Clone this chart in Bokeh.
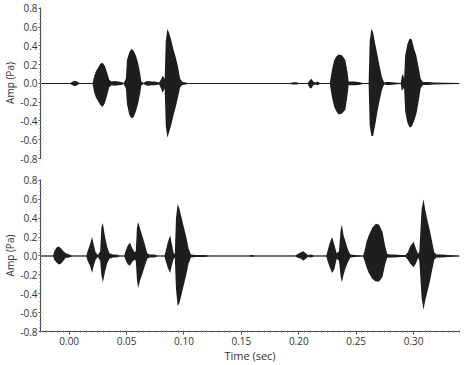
from bokeh.plotting import figure
from bokeh.layouts import column
from bokeh.models import FixedTicker, Range1d, PrintfTickFormatter
from bokeh.embed import file_html
from bokeh.resources import INLINE

# ---- Data: amplitude envelopes (time in s, amp in Pa) ----
top_t = [-0.025, 0.002, 0.004, 0.006, 0.008, 0.010, 0.022, 0.0235, 0.025, 0.027, 0.029, 0.031,
         0.033, 0.035, 0.037, 0.039, 0.042, 0.045, 0.048, 0.050, 0.052, 0.053, 0.055, 0.057,
         0.059, 0.061, 0.063, 0.065, 0.066, 0.068, 0.070, 0.072, 0.075, 0.078, 0.082, 0.084,
         0.085, 0.086, 0.087, 0.088, 0.0895, 0.091, 0.093, 0.095, 0.097, 0.099, 0.101, 0.103,
         0.106, 0.108, 0.200, 0.203, 0.206, 0.208, 0.216, 0.218, 0.2195, 0.221, 0.223, 0.225,
         0.227, 0.236, 0.238, 0.240, 0.242, 0.244, 0.247, 0.250, 0.252, 0.253, 0.255, 0.258,
         0.262, 0.266, 0.271, 0.272, 0.2735, 0.275, 0.277, 0.279, 0.281, 0.283, 0.285, 0.287,
         0.290, 0.295, 0.300, 0.301, 0.302, 0.303, 0.304, 0.306, 0.308, 0.310, 0.312, 0.314,
         0.316, 0.318, 0.320, 0.325, 0.330, 0.353]
top_up = [0.005, 0.005, 0.02, 0.03, 0.02, 0.005, 0.005, 0.08, 0.13, 0.17, 0.21, 0.22,
          0.19, 0.12, 0.04, 0.02, 0.025, 0.02, 0.015, 0.005, 0.05, 0.25, 0.33, 0.37,
          0.35, 0.30, 0.22, 0.10, 0.02, 0.005, 0.02, 0.025, 0.02, 0.02, 0.01, 0.05,
          0.08, 0.07, 0.05, 0.45, 0.58, 0.54, 0.46, 0.36, 0.28, 0.18, 0.05, 0.015,
          0.01, 0.005, 0.005, 0.012, 0.012, 0.005, 0.005, 0.035, 0.05, 0.02, 0.01, 0.02,
          0.005, 0.005, 0.15, 0.25, 0.29, 0.31, 0.30, 0.25, 0.12, 0.02, 0.02, 0.02,
          0.015, 0.005, 0.005, 0.45, 0.58, 0.55, 0.42, 0.30, 0.18, 0.07, 0.01, 0.015,
          0.015, 0.01, 0.005, 0.08, 0.10, 0.05, 0.30, 0.42, 0.48, 0.47, 0.37, 0.30,
          0.18, 0.05, 0.015, 0.015, 0.01, 0.005]
top_lo = [-0.005, -0.005, -0.02, -0.03, -0.02, -0.005, -0.005, -0.10, -0.15, -0.19, -0.23, -0.25,
          -0.21, -0.13, -0.04, -0.02, -0.025, -0.02, -0.015, -0.005, -0.05, -0.22, -0.33, -0.37,
          -0.36, -0.30, -0.22, -0.10, -0.02, -0.005, -0.02, -0.025, -0.02, -0.02, -0.01, -0.06,
          -0.10, -0.08, -0.05, -0.45, -0.58, -0.52, -0.44, -0.34, -0.25, -0.15, -0.04, -0.015,
          -0.01, -0.005, -0.005, -0.012, -0.012, -0.005, -0.005, -0.05, -0.05, -0.02, -0.01, -0.02,
          -0.005, -0.005, -0.15, -0.25, -0.30, -0.33, -0.32, -0.28, -0.12, -0.02, -0.02, -0.02,
          -0.015, -0.005, -0.005, -0.45, -0.56, -0.56, -0.44, -0.30, -0.18, -0.07, -0.01, -0.015,
          -0.015, -0.01, -0.005, -0.08, -0.06, -0.05, -0.30, -0.42, -0.47, -0.46, -0.40, -0.33,
          -0.20, -0.05, -0.015, -0.015, -0.01, -0.005]

bot_t = [-0.025, -0.014, -0.013, -0.011, -0.009, -0.007, -0.005, -0.003, -0.001, 0.001, 0.003,
         0.015, 0.016, 0.018, 0.020, 0.021, 0.023, 0.025, 0.027, 0.028, 0.0293, 0.031, 0.033,
         0.035, 0.038, 0.041, 0.044, 0.048, 0.049, 0.051, 0.053, 0.055, 0.057, 0.058, 0.059,
         0.060, 0.062, 0.064, 0.066, 0.068, 0.070, 0.074, 0.077, 0.083, 0.084, 0.086, 0.088,
         0.089, 0.091, 0.092, 0.093, 0.0945, 0.096, 0.098, 0.100, 0.102, 0.104, 0.106, 0.110,
         0.118, 0.122, 0.157, 0.159, 0.161, 0.197, 0.199, 0.202, 0.204, 0.206, 0.208, 0.211,
         0.213, 0.224, 0.225, 0.227, 0.229, 0.231, 0.233, 0.235, 0.2365, 0.2375, 0.239, 0.241,
         0.243, 0.245, 0.249, 0.256, 0.257, 0.259, 0.261, 0.264, 0.267, 0.270, 0.273, 0.275,
         0.277, 0.280, 0.284, 0.288, 0.293, 0.295, 0.297, 0.300, 0.302, 0.304, 0.305, 0.307,
         0.3087, 0.310, 0.312, 0.314, 0.316, 0.318, 0.320, 0.325, 0.330, 0.340]
bot_up = [0.005, 0.005, 0.05, 0.09, 0.10, 0.08, 0.05, 0.03, 0.02, 0.01, 0.005,
          0.005, 0.05, 0.12, 0.20, 0.14, 0.04, 0.01, 0.05, 0.30, 0.35, 0.22, 0.10,
          0.03, 0.015, 0.015, 0.005, 0.005, 0.05, 0.11, 0.14, 0.08, 0.04, 0.05, 0.30,
          0.36, 0.28, 0.20, 0.12, 0.03, 0.015, 0.015, 0.005, 0.005, 0.05, 0.15, 0.22,
          0.15, 0.03, 0.02, 0.40, 0.55, 0.50, 0.40, 0.30, 0.20, 0.08, 0.015, 0.01,
          0.01, 0.005, 0.005, 0.012, 0.005, 0.005, 0.02, 0.04, 0.05, 0.03, 0.01, 0.015,
          0.005, 0.005, 0.05, 0.14, 0.20, 0.12, 0.03, 0.05, 0.28, 0.33, 0.22, 0.14,
          0.06, 0.015, 0.01, 0.005, 0.04, 0.15, 0.22, 0.30, 0.34, 0.33, 0.25, 0.12,
          0.02, 0.015, 0.015, 0.01, 0.01, 0.04, 0.10, 0.15, 0.08, 0.02, 0.05, 0.50,
          0.60, 0.50, 0.38, 0.28, 0.16, 0.04, 0.015, 0.015, 0.01, 0.005]
bot_lo = [-0.005, -0.005, -0.04, -0.07, -0.09, -0.08, -0.05, -0.02, -0.02, -0.01, -0.005,
          -0.005, -0.05, -0.10, -0.18, -0.12, -0.04, -0.01, -0.05, -0.20, -0.28, -0.18, -0.08,
          -0.03, -0.015, -0.015, -0.005, -0.005, -0.04, -0.09, -0.10, -0.06, -0.04, -0.05, -0.25,
          -0.34, -0.25, -0.18, -0.10, -0.03, -0.015, -0.015, -0.005, -0.005, -0.05, -0.13, -0.18,
          -0.12, -0.03, -0.02, -0.35, -0.53, -0.50, -0.40, -0.30, -0.20, -0.08, -0.015, -0.01,
          -0.01, -0.005, -0.005, -0.012, -0.005, -0.005, -0.02, -0.03, -0.05, -0.03, -0.01, -0.015,
          -0.005, -0.005, -0.05, -0.12, -0.18, -0.14, -0.03, -0.05, -0.22, -0.28, -0.20, -0.12,
          -0.06, -0.015, -0.01, -0.005, -0.04, -0.12, -0.18, -0.24, -0.27, -0.27, -0.22, -0.10,
          -0.02, -0.015, -0.015, -0.01, -0.01, -0.04, -0.08, -0.12, -0.08, -0.02, -0.05, -0.45,
          -0.57, -0.48, -0.38, -0.28, -0.16, -0.04, -0.015, -0.015, -0.01, -0.005]

y_ticks = [-0.8, -0.6, -0.4, -0.2, 0.0, 0.2, 0.4, 0.6, 0.8]
x_ticks = [0.00, 0.05, 0.10, 0.15, 0.20, 0.25, 0.30]
y_label = "Amp (Pa)"
x_label = "Time (sec)"

FONT = "Open Sans"
AXC = "#444444"
WAVE = "#1e1e1e"


def style_y(p):
    ax = p.yaxis[0]
    ax.ticker = FixedTicker(ticks=y_ticks,
                            minor_ticks=[round(-0.8 + 0.04 * i, 2) for i in range(41)])
    ax.formatter = PrintfTickFormatter(format="%.1f")
    ax.axis_label = y_label
    ax.axis_label_text_font = FONT
    ax.axis_label_text_font_size = "10px"
    ax.axis_label_text_font_style = "normal"
    ax.axis_label_text_color = "#333333"
    ax.axis_label_standoff = 0
    ax.major_label_text_font = FONT
    ax.major_label_text_font_size = "10px"
    ax.major_label_text_color = "#333333"
    ax.major_label_standoff = 1
    ax.axis_line_color = AXC
    ax.major_tick_line_color = AXC
    ax.major_tick_out = 2
    ax.major_tick_in = 0
    ax.minor_tick_line_color = "#777777"
    ax.minor_tick_out = 1
    ax.minor_tick_in = 1


# ---- Top panel ----
p1 = figure(width=474, height=165, output_backend="svg", toolbar_location=None,
            x_range=Range1d(-0.025, 0.353), y_range=Range1d(-0.8, 0.81),
            min_border_left=36, min_border_right=0, min_border_top=7, min_border_bottom=7)
p1.xaxis.visible = False
style_y(p1)
p1.grid.visible = False
p1.outline_line_color = None
p1.line(x=[-0.025, 0.353], y=[0, 0], line_color="#888888", line_width=1)
p1.varea(x=top_t, y1=top_lo, y2=top_up, fill_color=WAVE)

# ---- Bottom panel ----
p2 = figure(width=474, height=200, output_backend="svg", toolbar_location=None,
            x_range=Range1d(-0.025, 0.34), y_range=Range1d(-0.8, 0.81),
            min_border_left=36, min_border_right=15, min_border_top=14, min_border_bottom=34)
style_y(p2)
p2.grid.visible = False
p2.outline_line_color = None
xa = p2.xaxis[0]
xa.ticker = FixedTicker(ticks=x_ticks,
                        minor_ticks=[round(-0.025 + 0.005 * i, 3) for i in range(74)])
xa.formatter = PrintfTickFormatter(format="%.2f")
xa.axis_label = x_label
xa.axis_label_text_font = FONT
xa.axis_label_text_font_size = "11px"
xa.axis_label_text_font_style = "normal"
xa.axis_label_text_color = "#333333"
xa.axis_label_standoff = 0
xa.major_label_text_font = FONT
xa.major_label_text_font_size = "10px"
xa.major_label_text_color = "#333333"
xa.major_label_standoff = 2
xa.axis_line_color = AXC
xa.major_tick_line_color = AXC
xa.major_tick_out = 3
xa.major_tick_in = 0
xa.minor_tick_line_color = "#777777"
xa.minor_tick_out = 1
xa.minor_tick_in = 1
p2.line(x=[-0.025, 0.34], y=[0, 0], line_color="#888888", line_width=1)
p2.varea(x=bot_t, y1=bot_lo, y2=bot_up, fill_color=WAVE)

layout = column(p1, p2, spacing=0)
open("out.html", "w").write(file_html(layout, INLINE))
